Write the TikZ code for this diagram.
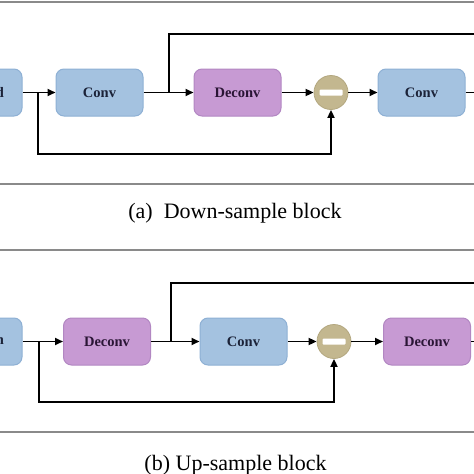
\documentclass[tikz,border=0pt]{standalone}
\usepackage{fontspec}
\setmainfont{Liberation Serif}
\usetikzlibrary{arrows.meta}
\definecolor{bluefill}{HTML}{A4C2E0}
\definecolor{blueline}{HTML}{8EB0D4}
\definecolor{purpfill}{HTML}{C79AD3}
\definecolor{purpline}{HTML}{B287C2}
\definecolor{khaki}{HTML}{C3B78F}
\definecolor{khakiline}{HTML}{B3A77F}
\definecolor{convtext}{HTML}{1B2238}
\definecolor{deconvtext}{HTML}{2A1535}
\definecolor{framegrey}{HTML}{8A8A8A}
\begin{document}
\begin{tikzpicture}[x=1pt,y=-1pt,
  convbox/.style={draw=blueline, fill=bluefill, line width=1pt, rounded corners=8pt,
    minimum width=87pt, minimum height=47pt, inner sep=0pt,
    font=\fontsize{14.5}{16}\selectfont\bfseries, text=convtext},
  deconvbox/.style={convbox, draw=purpline, fill=purpfill, text=deconvtext},
  subnode/.style={circle, fill=khaki, draw=khakiline, line width=0.8pt, minimum size=34pt, inner sep=0pt},
  minusbar/.style={fill=white, minimum width=23pt, minimum height=6pt, inner sep=0pt, rounded corners=1pt},
  partbox/.style={convbox, minimum width=82pt, text width=46pt, align=right},
  flow/.style={line width=1.8pt, -{Triangle[length=8pt,width=7pt]}},
  wire/.style={line width=1.8pt},
  frameline/.style={draw=framegrey, line width=2pt},
  captext/.style={font=\fontsize{22}{26}\selectfont, inner sep=0pt}]
\useasboundingbox (0,0) rectangle (474,474);
\clip (0,0) rectangle (474,474);

% ---------- (a) Down-sample block ----------
\draw[frameline] (-5,2) -- (480,2);
\draw[frameline] (-5,184) -- (480,184);

\node[partbox] (in1) at (-19,92.5) {d};
\node[convbox] (conv1) at (99.5,92.5) {Conv};
\node[deconvbox] (deconv1) at (237.5,92.5) {Deconv};
\node[subnode] (c1) at (331,92.5) {};
\node[minusbar] (m1) at (c1) {};
\node[convbox] (conv2) at (421.5,92.5) {Conv};

\coordinate (s1) at (38,92.5);
\coordinate (b1) at (169,92.5);
\coordinate (e1) at (480,34);
\coordinate (o1) at (480,92.5);

\draw[flow] (in1.east) -- (conv1.west);
\draw[flow] (conv1.east) -- (deconv1.west);
\draw[flow] (deconv1.east) -- (c1.west);
\draw[flow] (c1.east) -- (conv2.west);
\draw[wire] (conv2.east) -- (o1);
\draw[wire] (b1) |- (e1);
\draw[flow] (s1) -- ++(0,61.5) -| (c1.south);

\node[captext] (capA) at (235,213) {(a)~~Down-sample block};

% ---------- (b) Up-sample block ----------
\draw[frameline] (-5,250) -- (480,250);
\draw[frameline] (-5,432) -- (480,432);

\node[partbox] (in2) at (-19,341.5) {n};
\node[deconvbox] (deconv3) at (107,341.5) {Deconv};
\node[convbox] (conv3) at (243.5,341.5) {Conv};
\node[subnode] (c2) at (334,341.5) {};
\node[minusbar] (m2) at (c2) {};
\node[deconvbox] (deconv4) at (427,341.5) {Deconv};

\coordinate (s2) at (39,341.5);
\coordinate (b2) at (171,341.5);
\coordinate (e2) at (480,283);
\coordinate (o2) at (480,341.5);

\draw[flow] (in2.east) -- (deconv3.west);
\draw[flow] (deconv3.east) -- (conv3.west);
\draw[flow] (conv3.east) -- (c2.west);
\draw[flow] (c2.east) -- (deconv4.west);
\draw[wire] (deconv4.east) -- (o2);
\draw[wire] (b2) |- (e2);
\draw[flow] (s2) -- ++(0,60.5) -| (c2.south);

\node[captext] (capB) at (235.5,465) {(b) Up-sample block};
\end{tikzpicture}
\end{document}
